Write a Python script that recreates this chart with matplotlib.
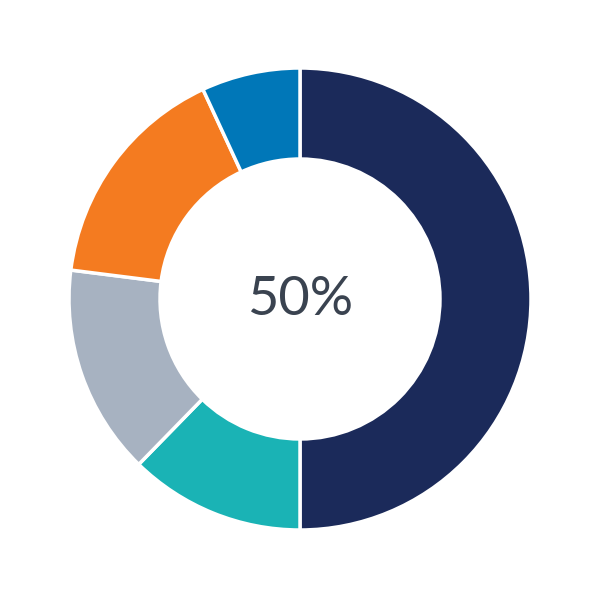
import matplotlib
matplotlib.use("Agg")
import matplotlib.pyplot as plt

# ── Data ──────────────────────────────────────────────────────────────────────
segments = ["Navy", "Teal", "Gray", "Orange", "Blue"]
shares = [50.0, 12.3, 14.7, 16.1, 6.9]
colors = ["#1b2a5a", "#1ab3b5", "#a7b2c1", "#f47b20", "#0077b8"]
center_label = "50%"

# ── Figure ────────────────────────────────────────────────────────────────────
fig = plt.figure(figsize=(6.0, 5.99), dpi=100)
ax = fig.add_axes([0, 0, 1, 1])

R = 231.0  # outer radius in px
ax.pie(shares, colors=colors, startangle=90, counterclock=False,
       radius=1.0, center=(0, 0),
       wedgeprops=dict(width=0.394, edgecolor="white", linewidth=2.5))

ax.text(0, 0, center_label, ha="center", va="center", fontsize=39,
        family=["Lato", "DejaVu Sans"], color="#3a4350")

ax.set_xlim(-300 / R, 300 / R)
ax.set_ylim(-(599 - 299) / R, 299 / R)
ax.set_aspect("equal")
ax.axis("off")

plt.savefig("out.png", dpi=100)
plt.close()
